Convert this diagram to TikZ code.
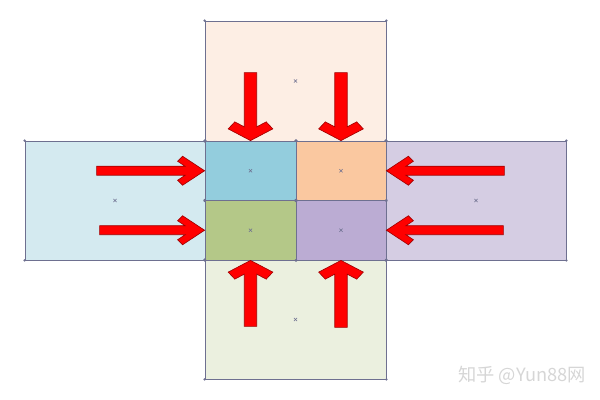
\documentclass[tikz,border=0pt]{standalone}
\usepackage{fontspec}
\newfontfamily\cjkfont{Noto Sans CJK SC}
\usepackage{xcolor}
\usepackage{tikz}
\usetikzlibrary{fit}

\definecolor{topfill}{HTML}{FDEEE4}
\definecolor{leftfill}{HTML}{D4EAF0}
\definecolor{rightfill}{HTML}{D5CDE3}
\definecolor{bottomfill}{HTML}{EBF0DF}
\definecolor{tlfill}{HTML}{93CDDD}
\definecolor{trfill}{HTML}{FAC8A0}
\definecolor{blfill}{HTML}{B4C888}
\definecolor{brfill}{HTML}{BBACD3}
\definecolor{edgegrey}{HTML}{6E7090}
\definecolor{arrowred}{HTML}{FF0000}
\definecolor{arrowdark}{HTML}{A00000}

\begin{document}
\begin{tikzpicture}[
    x=0.025cm, y=-0.025cm,
    panel/.style={draw=edgegrey, line width=0.6pt, inner sep=0},
    handle/.style={draw=edgegrey, line width=0.35pt},
    redarrow/.style={fill=arrowred, draw=arrowdark, line width=0.45pt, line join=miter},
    pics/hpush/.style={code={
        \path[redarrow] (0,0) -- (-22,-14.5) -- (-27,-9.5) -- (-19.5,-4.5) -- (-#1,-4.5)
            -- (-#1,4.5) -- (-19.5,4.5) -- (-27,9.5) -- (-22,14.5) -- cycle;}},
    pics/vpush/.style={code={
        \path[redarrow] (0,0) -- (-22.3,-11.7) -- (-15.7,-18.7) -- (-6.2,-13.7) -- (-6.2,-#1)
            -- (6.2,-#1) -- (6.2,-13.7) -- (15.7,-18.7) -- (22.3,-11.7) -- cycle;}},
    pics/mark/.style={code={
        \draw[handle] (-1.6,-1.6) -- (1.6,1.6) (-1.6,1.6) -- (1.6,-1.6);}}
]
\useasboundingbox (0,0) rectangle (600,400);

% outer panels
\node[panel, fill=topfill,    fit={(205,21) (386,141)}]  (top) {};
\node[panel, fill=leftfill,   fit={(25,141) (205,260)}]  (left) {};
\node[panel, fill=rightfill,  fit={(386,141) (566,260)}] (right) {};
\node[panel, fill=bottomfill, fit={(205,260) (386,379)}] (bottom) {};

% centre cells
\node[panel, fill=tlfill, fit={(205,141) (296,200.5)}] (tl) {};
\node[panel, fill=trfill, fit={(296,141) (386,200.5)}] (tr) {};
\node[panel, fill=blfill, fit={(205,200.5) (296,260)}] (bl) {};
\node[panel, fill=brfill, fit={(296,200.5) (386,260)}] (br) {};

% selection marks
\foreach \n in {top,left,right,bottom,tl,tr,bl,br} {
    \pic at (\n.center) {mark};
    \foreach \a in {north west,north east,south west,south east}
        \fill[edgegrey] (\n.\a) circle (1.3);
}

% arrows
\pic at (tl.north) {vpush=68};
\pic at (tr.north) {vpush=68};
\pic[rotate=180] at (bl.south) {vpush=66};
\pic[rotate=180] at (br.south) {vpush=67};
\pic at (tl.west) {hpush=108};
\pic at (bl.west) {hpush=105};
\pic[rotate=180] at (tr.east) {hpush=118};
\pic[rotate=180] at (br.east) {hpush=117};

\node[font=\cjkfont\fontsize{13}{13}\selectfont, text=black!16] (watermark) at (522,375) {知乎 @Yun88网};

\end{tikzpicture}
\end{document}
